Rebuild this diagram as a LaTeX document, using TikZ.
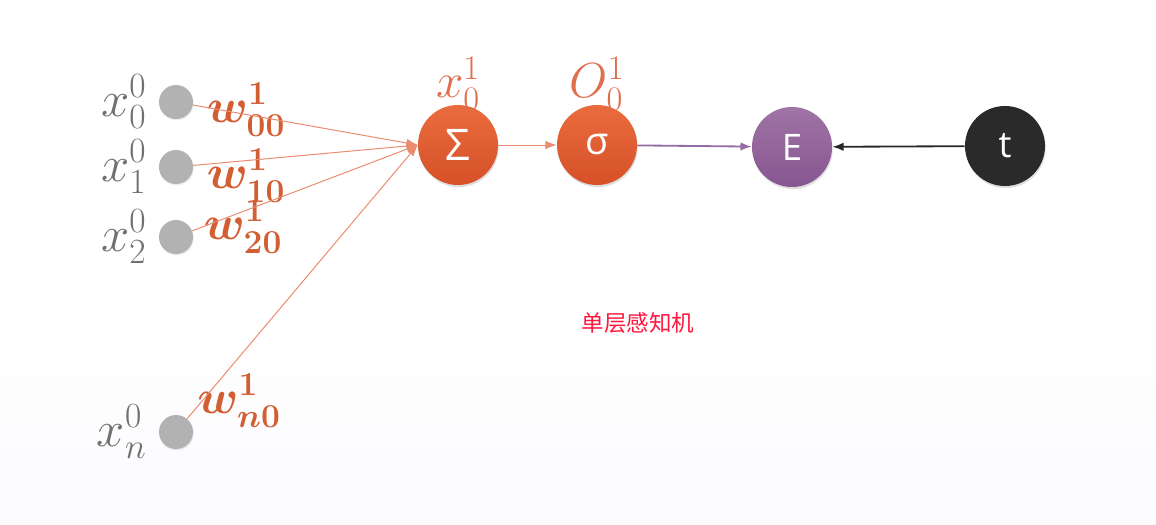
\documentclass[tikz,border=0pt]{standalone}
\usepackage{fix-cm}
\usepackage{amsmath,amssymb}
\usepackage{bm}
\usepackage{fontspec}
\usepackage{xcolor}
\usepackage{tikz}
\usetikzlibrary{arrows,arrows.meta,positioning,shadows}
\newfontfamily\circfont{Open Sans}
\newfontfamily\cjk{Noto Sans CJK SC}

\definecolor{ingray}{RGB}{178,178,178}
\definecolor{labgray}{RGB}{112,112,112}
\definecolor{wcol}{RGB}{210,94,52}
\definecolor{toporange}{RGB}{222,112,78}
\definecolor{wirecol}{RGB}{234,140,112}
\definecolor{orangetop}{RGB}{234,108,62}
\definecolor{orangebot}{RGB}{214,80,40}
\definecolor{purpletop}{RGB}{160,116,166}
\definecolor{purplebot}{RGB}{134,86,144}
\definecolor{purplewire}{RGB}{150,108,162}
\definecolor{darknode}{RGB}{42,42,42}
\definecolor{darkwire}{RGB}{40,40,40}
\definecolor{cjkred}{RGB}{255,24,64}
\definecolor{bgtint}{RGB}{251,250,253}

\begin{document}
\begin{tikzpicture}[
    x=0.025cm, y=-0.025cm,
    >={Latex[length=8pt,width=6pt]},
    inputnode/.style={circle, fill=ingray, minimum size=0.85cm, inner sep=0,
        drop shadow={opacity=0.15, shadow xshift=0.5pt, shadow yshift=-1pt}},
    neuron/.style={circle, minimum size=2cm, inner sep=0, text=white,
        drop shadow={opacity=0.25, shadow xshift=0.5pt, shadow yshift=-1.5pt}},
    orangefill/.style={top color=orangetop, bottom color=orangebot},
    inlabel/.style={text=labgray, inner sep=0, font=\fontsize{36}{38}\selectfont},
    toplabel/.style={text=toporange, inner sep=0, font=\fontsize{35}{38}\selectfont},
    weight/.style={text=wcol, inner sep=0, font=\fontsize{34}{36}\selectfont\boldmath},
    wire/.style={->, draw=wirecol, line width=0.7pt},
]
\useasboundingbox (0,0) rectangle (1156,525);
\fill[white] (0,0) rectangle (1156,525);
\shade[top color=white, bottom color=bgtint] (0,320) rectangle (1156,525);

% inputs
\foreach \i/\ypos in {0/102,1/167,2/237,n/432}{
    \node[inputnode] (in\i) at (176,\ypos) {};
    \node[inlabel, left=0.3cm of in\i] (lab\i) {$x^{0}_{\i}$};
}

% neurons
\node[neuron, orangefill, font=\circfont\fontsize{31}{31}\selectfont] (sum) at (458,145) {Σ};
\node[neuron, orangefill, font=\circfont\fontsize{27}{27}\selectfont] (sig) at (597,145) {σ};
\node[neuron, top color=purpletop, bottom color=purplebot, font=\circfont\fontsize{26}{26}\selectfont] (E) at (792,147) {E};
\node[neuron, fill=darknode, font=\circfont\fontsize{26}{26}\selectfont] (t) at (1005,146) {t};

\node[toplabel, above=-4pt of sum] (xsum) {$x^{1}_{0}$};
\node[toplabel, above=-4pt of sig] (osig) {$O^{1}_{0}$};

% weights
\node[weight] (w0) at (246,110) {$w^{1}_{00}$};
\node[weight] (w1) at (246,176) {$w^{1}_{10}$};
\node[weight] (w2) at (243,227) {$w^{1}_{20}$};
\node[weight] (wn) at (239,401) {$w^{1}_{n0}$};

% connectors
\foreach \i in {0,1,2,n}
    \draw[wire] (in\i) -- (sum.west);
\draw[wire] (sum) -- (sig);
\draw[->, draw=purplewire, line width=1.3pt] (sig) -- (E);
\draw[->, draw=darkwire, line width=1.3pt] (t) -- (E);

\node[text=cjkred, font=\cjk\fontsize{16}{18}\selectfont] (title) at (638,323) {单层感知机};

\end{tikzpicture}
\end{document}
